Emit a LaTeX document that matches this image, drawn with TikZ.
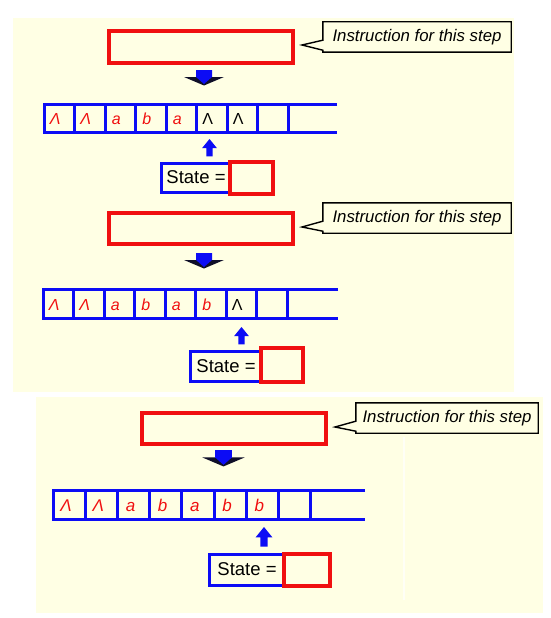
\documentclass[tikz,border=0pt]{standalone}
\usepackage{fontspec}
\setmainfont{Liberation Sans}
\usetikzlibrary{calc,backgrounds}
\definecolor{bgyellow}{RGB}{255,255,228}
\definecolor{tblue}{RGB}{12,12,245}
\definecolor{tred}{RGB}{240,16,16}
\definecolor{arrdark}{RGB}{15,15,40}
\tikzset{
  downarr/.pic={
    \fill[arrdark] (-20,7) -- (20,7) -- (0,15.5) -- cycle;
    \fill[tblue] (-8,0) -- (8,0) -- (8,7) -- (0,14) -- (-8,7) -- cycle;
  },
  uparr/.pic={
    \fill[tblue] (0,0) -- (6.5,8) -- (2.7,8) -- (2.7,15) -- (-2.7,15) -- (-2.7,8) -- (-6.5,8) -- cycle;
  },
  instrbox/.style={draw=tred,line width=3.2pt,fill=bgyellow,minimum width=184pt,inner sep=0pt},
  calltext/.style={font=\itshape\fontsize{16.8}{18}\selectfont,inner sep=0pt,minimum height=30pt},
  callline/.style={draw=black,line width=1.4pt,fill=bgyellow,line join=miter},
  tapeline/.style={draw=tblue,line width=3pt},
  symA/.style={inner sep=0pt,anchor=base,font=\fontsize{16}{16}\selectfont},
  symB/.style={inner sep=0pt,anchor=base,font=\fontsize{17}{17}\selectfont},
  statebox/.style={draw=tblue,line width=3pt,fill=bgyellow,inner sep=0pt,font=\fontsize{18.5}{19}\selectfont},
  stateval/.style={draw=tred,line width=3.2pt,fill=bgyellow,inner sep=0pt},
}
\newcommand\tmTape[5]{%
  \draw[tapeline] (#5,#3) -- (#1,#3) -- (#1,#4) -- (#5,#4);
  \foreach \k in {1,...,8} \draw[tapeline] ({#1+\k*#2},#3) -- ({#1+\k*#2},#4);
}
\begin{document}
\begin{tikzpicture}[x=1pt,y=-1pt]
\useasboundingbox (0,0) rectangle (550,618);
\begin{scope}[on background layer]
  \fill[white] (0,0) rectangle (550,618);
  \fill[bgyellow] (13,18) rectangle (514,392);
  \fill[bgyellow] (36,397) rectangle (543,613);
  \draw[white,opacity=0.7,line width=1.2pt] (404,437) -- (404,600);
\end{scope}

% ---------- step 1 ----------
\node[instrbox,minimum height=32pt] (iA) at (201,47) {};
\node[calltext,minimum width=188pt] (cA) at (417,37) {Instruction for this step};
\begin{scope}[on background layer]
  \path[callline] (cA.north west) -- (cA.north east) -- (cA.south east) -- (cA.south west)
    -- ($(cA.south west)+(0,-2)$) -- (302,45) -- ($(cA.south west)+(0,-12)$) -- cycle;
\end{scope}
\pic at (204,70) {downarr};
\tmTape{44}{30.5}{104}{132}{337}
\foreach \s/\c/\f [count=\i] in {Λ/tred/\itshape,Λ/tred/\itshape,a/tred/\itshape,b/tred/\itshape,a/tred/\itshape,Λ/black/\upshape,Λ/black/\upshape}
  \node[symA,text=\c] (tA\i) at ({44+(\i-0.5)*30.5-4},124.5) {\f\s};
\pic[scale=1.15] at (209.5,139) {uparr};
\node[statebox,minimum width=70pt,minimum height=29pt] (sA) at (196,177.5) {State =};
\node[stateval,minimum width=43pt,minimum height=32pt] (vA) at (251.5,178) {};

% ---------- step 2 ----------
\node[instrbox,minimum height=31pt] (iB) at (201,228.5) {};
\node[calltext,minimum width=188pt] (cB) at (417,218) {Instruction for this step};
\begin{scope}[on background layer]
  \path[callline] (cB.north west) -- (cB.north east) -- (cB.south east) -- (cB.south west)
    -- ($(cB.south west)+(0,-2)$) -- (302,227) -- ($(cB.south west)+(0,-12)$) -- cycle;
\end{scope}
\pic at (204,253) {downarr};
\tmTape{43}{30.5}{289}{318}{338}
\foreach \s/\c/\f [count=\i] in {Λ/tred/\itshape,Λ/tred/\itshape,a/tred/\itshape,b/tred/\itshape,a/tred/\itshape,b/tred/\itshape,Λ/black/\upshape}
  \node[symA,text=\c] (tB\i) at ({43+(\i-0.5)*30.5-4},310.5) {\f\s};
\pic[scale=1.15] at (241.5,327) {uparr};
\node[statebox,minimum width=72pt,minimum height=30pt] (sB) at (226,366) {State =};
\node[stateval,minimum width=42pt,minimum height=34pt] (vB) at (282,365) {};

% ---------- step 3 ----------
\node[instrbox,minimum height=31pt] (iC) at (234,428.5) {};
\node[calltext,minimum width=182pt] (cC) at (447,418) {Instruction for this step};
\begin{scope}[on background layer]
  \path[callline] (cC.north west) -- (cC.north east) -- (cC.south east) -- (cC.south west)
    -- ($(cC.south west)+(0,-2)$) -- (335,427) -- ($(cC.south west)+(0,-12)$) -- cycle;
\end{scope}
\pic[scale=1.06] at (223.5,450) {downarr};
\tmTape{53}{32.2}{490}{519}{365}
\foreach \s/\c/\f [count=\i] in {Λ/tred/\itshape,Λ/tred/\itshape,a/tred/\itshape,b/tred/\itshape,a/tred/\itshape,b/tred/\itshape,b/tred/\itshape}
  \node[symB,text=\c] (tC\i) at ({53+(\i-0.5)*32.2-3},511) {\f\s};
\pic[scale=1.3] at (264,527) {uparr};
\node[statebox,minimum width=76pt,minimum height=31pt] (sC) at (247,569.5) {State =};
\node[stateval,minimum width=46pt,minimum height=32pt] (vC) at (307,570) {};
\end{tikzpicture}
\end{document}
